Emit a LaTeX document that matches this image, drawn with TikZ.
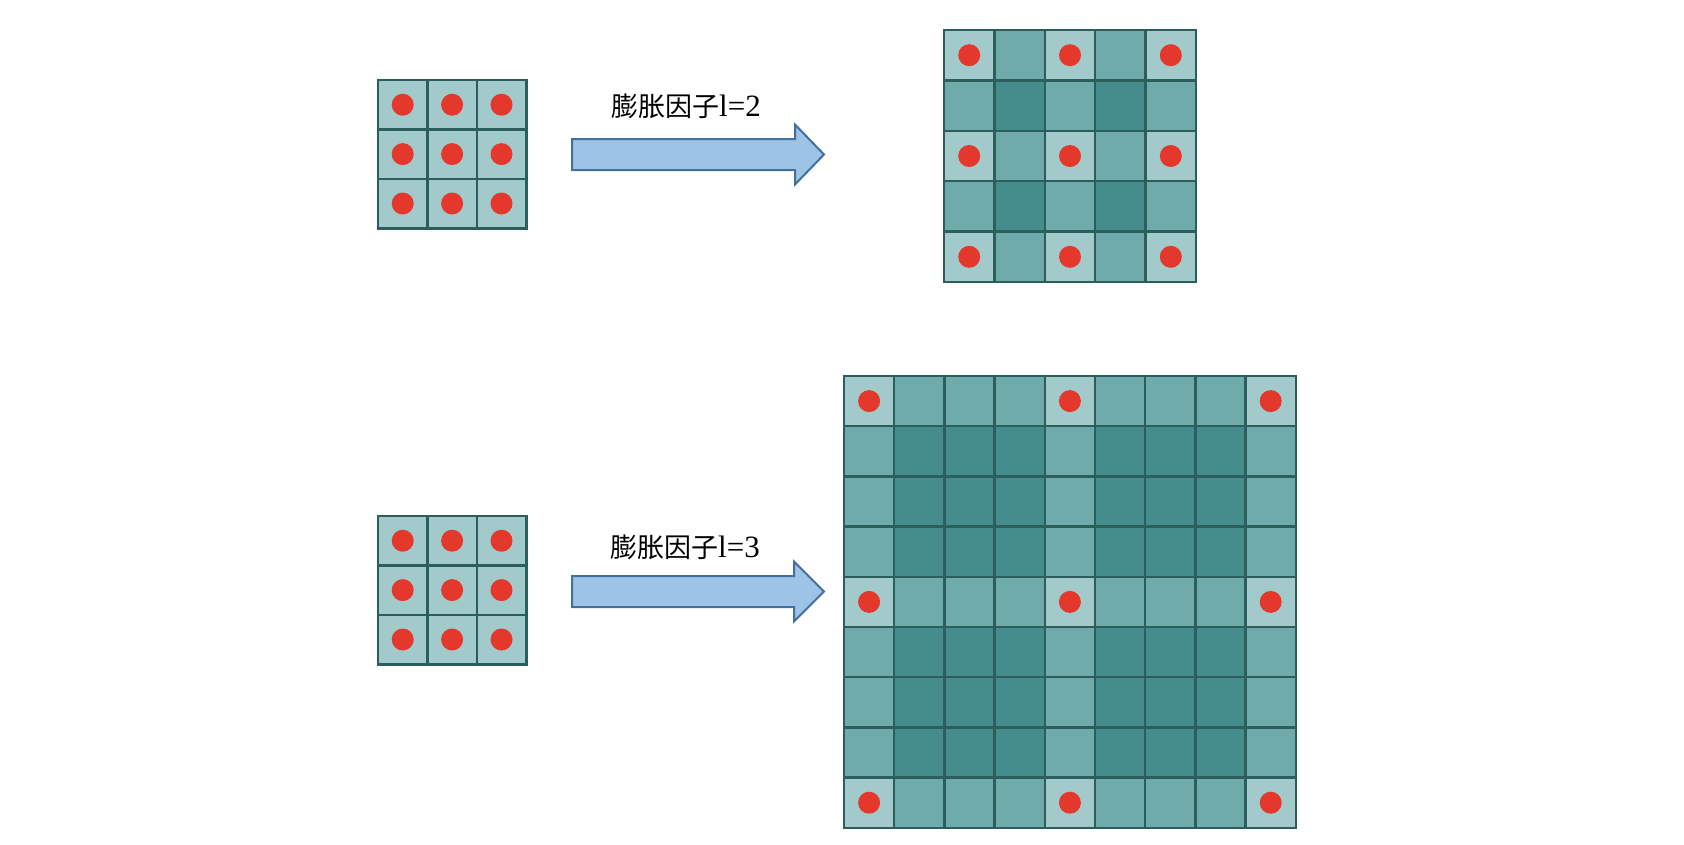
\documentclass[tikz,border=0pt]{standalone}
\usepackage{fontspec}
\setmainfont{Liberation Serif}
\newfontfamily\cjk{Noto Sans CJK SC}
\definecolor{clight}{HTML}{A3CACA}
\definecolor{cmid}{HTML}{6FABAB}
\definecolor{cdark}{HTML}{458C8C}
\definecolor{cline}{HTML}{2D5E5E}
\definecolor{cred}{HTML}{E3382B}
\definecolor{afill}{HTML}{9DC3E6}
\definecolor{aline}{HTML}{41719C}
\tikzset{
  cell/.style={draw=cline, rectangle, inner sep=0pt, outer sep=0pt},
  lbl/.style={font=\fontsize{31}{34}\selectfont, inner sep=0pt},
  bigarrow/.style={draw=aline, fill=afill, line width=2pt, line join=miter},
}
\newcommand\drawgrid[7]{%
  \foreach \ii in {1,...,#5}{%
    \foreach \jj in {1,...,#5}{%
      \pgfmathtruncatemacro\ra{mod(\ii-1,#6)==0 ? 1 : 0}%
      \pgfmathtruncatemacro\ca{mod(\jj-1,#6)==0 ? 1 : 0}%
      \pgfmathtruncatemacro\kk{\ra+\ca}%
      \ifcase\kk \def\cf{cdark}\or \def\cf{cmid}\else \def\cf{clight}\fi
      \node[cell, minimum size=#4pt, fill=\cf, line width=#7pt] (#1-\ii-\jj) at ({#2+(\jj-0.5)*#4},{#3+(\ii-0.5)*#4}) {};
      \ifnum\kk=2 \fill[cred] (#1-\ii-\jj.center) circle (11);\fi
    }%
  }%
}
\begin{document}
\begin{tikzpicture}[x=1pt,y=-1pt]
\useasboundingbox (0,0) rectangle (1684,844);
% top row
\drawgrid{sa}{378}{80}{49.4}{3}{1}{2.6}
\drawgrid{ba}{944}{30}{50.4}{5}{2}{2.3}
\node[lbl] (ta) at (686,106) {{\cjk\fontsize{27}{30}\selectfont 膨胀因子}l=2};
\coordinate (aa) at (572,154.5);
\draw[bigarrow] (aa) ++(0,-15.5) -- ++(223,0) -- ++(0,-14.5) -- ++(29,30) -- ++(-29,30) -- ++(0,-14.5) -- ++(-223,0) -- cycle;
% bottom row
\drawgrid{sb}{378}{516}{49.4}{3}{1}{2.6}
\drawgrid{bb}{844}{376}{50.2}{9}{4}{2.3}
\node[lbl] (tb) at (685,547) {{\cjk\fontsize{27}{30}\selectfont 膨胀因子}l=3};
\coordinate (ab) at (572,591.5);
\draw[bigarrow] (ab) ++(0,-15.5) -- ++(222,0) -- ++(0,-14.5) -- ++(30,30) -- ++(-30,30) -- ++(0,-14.5) -- ++(-222,0) -- cycle;
\end{tikzpicture}
\end{document}
